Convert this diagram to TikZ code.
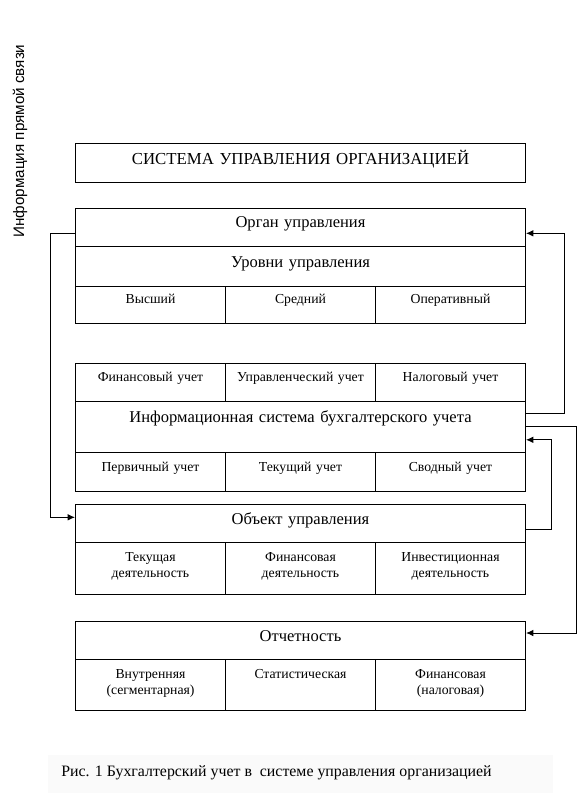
\documentclass[tikz,border=0pt]{standalone}
\usepackage{fontspec}
\setmainfont{Liberation Serif}
\setsansfont{Liberation Sans}
\usetikzlibrary{calc,positioning,arrows.meta}
\tikzset{
row/.style 2 args={draw, anchor=north west, text width=337.5pt, align=center, inner sep=0pt, line width=0.75, text height=#1, text depth=#2, font=\fontsize{12.4}{14}\selectfont},
cell/.style 2 args={draw, anchor=north west, text width=112.5pt, align=center, inner sep=0pt, line width=0.75, text height=#1, text depth=#2, font=\fontsize{10.3}{12}\selectfont},
link/.style={line width=0.75, -{Latex[length=5.5pt,width=5pt]}}
}

\begin{document}
\begin{tikzpicture}[x=0.75pt,y=0.75pt,yscale=-1,xscale=1]
\useasboundingbox (0,0) rectangle (576,793);
%Caption Background
\fill[black!2] (48,755) rectangle (553,793);
%Vertical Label
\node[rotate=90, font=\sffamily\fontsize{11.4}{13}\selectfont] (fwdinfo) at (20,141) {Информация прямой связи};
%Title
\node[row={15.75pt}{13.5pt}, font=\fontsize{12.6}{14}\selectfont] (sysorg) at (75,143.3) {СИСТЕМА УПРАВЛЕНИЯ ОРГАНИЗАЦИЕЙ};
%Organ
\node[row={14.25pt}{14.25pt}] (organ) at (75,208.3) {Орган управления};
\node[row={15.3pt}{14.25pt}] (levels) at (75,246.3) {Уровни управления};
\node[cell={13.2pt}{15pt}] (lvhigh) at (75,285.7) {Высший};
\node[cell={13.2pt}{15pt}] (lvmid) at (225,285.7) {Средний};
\node[cell={13.2pt}{15pt}] (lvop) at (375,285.7) {Оперативный};
%Accounting
\node[cell={13.5pt}{15.45pt}] (finacc) at (75,362.7) {Финансовый учет};
\node[cell={13.5pt}{15.45pt}] (mngacc) at (225,362.7) {Управленческий учет};
\node[cell={13.5pt}{15.45pt}] (taxacc) at (375,362.7) {Налоговый учет};
\node[row={15.3pt}{22.95pt}] (ais) at (75,401.3) {Информационная система бухгалтерского учета};
\node[cell={13.8pt}{15.45pt}] (primacc) at (75,452.3) {Первичный учет};
\node[cell={13.8pt}{15.45pt}] (curacc) at (225,452.3) {Текущий учет};
\node[cell={13.8pt}{15.45pt}] (sumacc) at (375,452.3) {Сводный учет};
%Object
\node[row={15pt}{13.5pt}] (object) at (75,504.3) {Объект управления};
\node[cell={13.8pt}{25.2pt}] (actcur) at (75,542.3) {Текущая\\деятельность};
\node[cell={13.8pt}{25.2pt}] (actfin) at (225,542.3) {Финансовая\\деятельность};
\node[cell={13.8pt}{25.2pt}] (actinv) at (375,542.3) {Инвестиционная\\деятельность};
%Reports
\node[row={15pt}{13.5pt}] (report) at (75,620.5) {Отчетность};
\node[cell={14.25pt}{24.35pt}] (repint) at (75,658.5) {Внутренняя\\(сегментарная)};
\node[cell={14.25pt}{24.35pt}] (repstat) at (225,658.5) {Статистическая};
\node[cell={14.25pt}{24.35pt}] (repfin) at (375,658.5) {Финансовая\\(налоговая)};
%Links
\draw[link] ($(organ.west)+(0,6)$) -- ++(-25,0) |- ($(object.west)+(0,-6.5)$);
\draw[link] ($(ais.east)+(0,-13.5)$) -- ++(38,0) |- ($(organ.east)+(0,5.5)$);
\draw[link] ($(ais.east)+(0,-1)$) -- ++(50,0) |- ($(report.east)+(0,-7)$);
\draw[link] ($(object.east)+(0,6)$) -- ++(25,0) |- ($(ais.east)+(0,12.5)$);
%Caption
\node[font=\fontsize{11.9}{13}\selectfont] (caption) at (276.5,773) {Рис. 1 Бухгалтерский учет в \ системе управления организацией};
\end{tikzpicture}
\end{document}
